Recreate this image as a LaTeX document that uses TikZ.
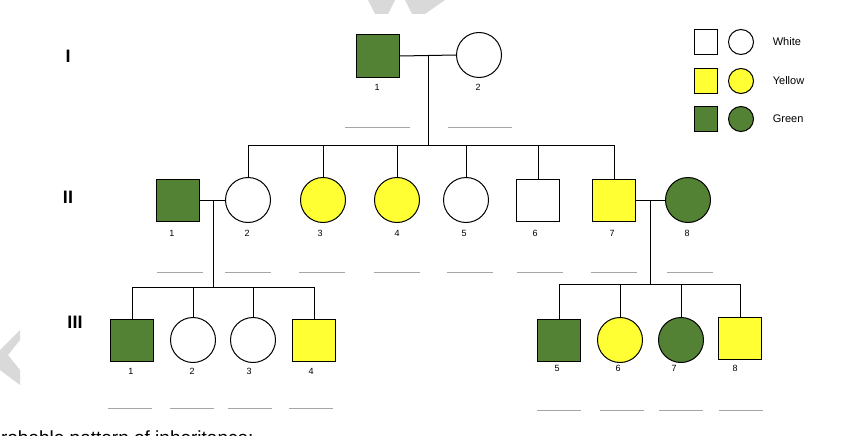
\documentclass[tikz,border=0pt]{standalone}
\usepackage{fontspec}
\setmainfont{Liberation Sans}
\begin{document}
\begin{tikzpicture}[x=1pt,y=-1pt,line width=1pt,
  sq/.style={draw,minimum width=43pt,minimum height=42pt,inner sep=0pt},
  ci/.style={draw,circle,minimum size=45pt,inner sep=0pt},
  lsq/.style={draw,minimum width=23pt,minimum height=25pt,inner sep=0pt},
  lci/.style={draw,circle,minimum size=25pt,inner sep=0pt},
  gr/.style={fill={rgb,255:red,84;green,130;blue,53}},
  ye/.style={fill={rgb,255:red,255;green,255;blue,51}},
  num/.style={font=\fontsize{9}{9}\selectfont},
  gen/.style={font=\bfseries\fontsize{18}{18}\selectfont},
  blank/.style={draw=gray!70,line width=0.8pt},
  ltx/.style={anchor=west,font=\fontsize{11}{11}\selectfont}]
\useasboundingbox (0,0) rectangle (848,436);
\clip (0,0) rectangle (848,436);
% watermark fragments
\fill[gray!30] (368,0) -- (395,0) -- (388,14) -- (375,14) -- cycle;
\fill[gray!30] (405,0) -- (445,0) -- (425,14) -- (412,14) -- cycle;
\fill[gray!30] (0,350) -- (20,330) -- (20,340) -- (8,355) -- (20,370) -- (20,385) -- (0,370) -- cycle;
% generation labels
\node[gen] (gI) at (68,56) {I};
\node[gen] (gII) at (68,197) {II};
\node[gen] (gIII) at (75,322) {III};
% Gen I
\node[sq,gr] (a1) at (378,56) {};
\node[ci] (a2) at (479,55) {};
\node[num] (na1) at (377,87) {1};
\node[num] (na2) at (478,87) {2};
\coordinate (m1) at (428,56);
\coordinate (b1) at (428,145);
\draw (a1.east) -- (a2.west);
\draw (m1) -- (b1);
\draw[blank] (345,127) -- (410,127);
\draw[blank] (448,127) -- (512,127);
% Gen II
\node[sq,gr] (c1) at (178,200) {};
\node[ci] (c2) at (248,200) {};
\node[ci,ye] (c3) at (323,200) {};
\node[ci,ye] (c4) at (397,200) {};
\node[ci] (c5) at (466,200) {};
\node[sq] (c6) at (538,200) {};
\node[sq,ye] (c7) at (614,200) {};
\node[ci,gr] (c8) at (688,200) {};
\foreach \n/\x in {1/172,2/247,3/320,4/397,5/464,6/535,7/612,8/687}
  \node[num] at (\x,233) {\n};
\foreach \x in {180,248,322,397,470,540,614,690}
  \draw[blank] (\x-23,272) -- (\x+23,272);
\coordinate (bl) at (248,145);
\coordinate (br) at (614,145);
\draw (bl) -- (br);
\foreach \c in {c2,c3,c4,c5,c6,c7}
  \draw (\c.north |- bl) -- (\c.north);
\draw (c1.east) -- (c2.west);
\draw (c7.east) -- (c8.west);
\coordinate (m2) at (213,200);
\coordinate (m3) at (650,200);
% Gen III left
\node[sq,gr] (d1) at (132,340) {};
\node[ci] (d2) at (193,340) {};
\node[ci] (d3) at (253,340) {};
\node[sq,ye] (d4) at (314,340) {};
\coordinate (e1) at (213,287);
\draw (m2) -- (e1);
\draw (d1.north |- e1) -- (d4.north |- e1);
\foreach \c in {d1,d2,d3,d4} \draw (\c.north |- e1) -- (\c.north);
\foreach \n/\x in {1/131,2/192,3/249,4/311} \node[num] at (\x,371) {\n};
\foreach \x in {130,192,250,311} \draw[blank] (\x-22,408) -- (\x+22,408);
% Gen III right
\node[sq,gr] (f5) at (559,340) {};
\node[ci,ye] (f6) at (620,340) {};
\node[ci,gr] (f7) at (681,340) {};
\node[sq,ye] (f8) at (740,338) {};
\coordinate (e2) at (650,284);
\draw (m3) -- (e2);
\draw (f5.north |- e2) -- (f8.north |- e2);
\foreach \c in {f5,f6,f7,f8} \draw (\c.north |- e2) -- (\c.north);
\foreach \n/\x in {5/557,6/618,7/674,8/735} \node[num] at (\x,368) {\n};
\foreach \x in {559,622,681,741} \draw[blank] (\x-22,410) -- (\x+22,410);
% legend
\node[lsq] (l1) at (706,42) {};
\node[lci] (l2) at (741,42) {};
\node[lsq,ye] (l3) at (706,81) {};
\node[lci,ye] (l4) at (741,81) {};
\node[lsq,gr] (l5) at (706,119) {};
\node[lci,gr] (l6) at (741,119) {};
\node[ltx] (t1) at (769,42) {White};
\node[ltx] (t2) at (769,81) {Yellow};
\node[ltx] (t3) at (769,119) {Green};
% bottom text
\node[anchor=west,font=\fontsize{19}{19}\selectfont,inner sep=0pt] (bt) at (-10,440) {probable pattern of inheritance:};
\end{tikzpicture}
\end{document}
